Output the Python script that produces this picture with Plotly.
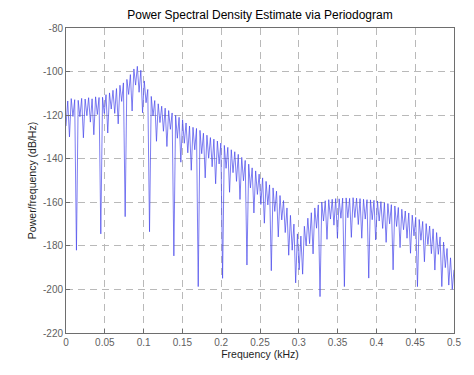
import numpy as np
import plotly.graph_objects as go

# Lobe tops (dB/Hz), one per spectral lobe from 0 to 0.5 kHz
peak_db = [
    -113.5, -112.4, -112.9, -113.2, -112.3, -112.6, -112.0, -112.5, -111.6, -111.9,
    -111.8, -110.6, -109.8, -108.6, -107.8, -106.3, -105.2, -103.6, -101.4, -98.8,
    -97.6, -99.4, -104.3, -108.2, -111.4, -113.3, -114.8, -115.9, -116.8, -117.9,
    -119.0, -120.1, -121.0, -122.1, -123.6, -125.0, -125.6, -126.1, -127.0, -128.3,
    -129.2, -130.3, -131.0, -131.9, -132.8, -133.9, -134.8, -135.9, -136.8, -138.0,
    -139.4, -140.8, -142.5, -144.2, -145.6, -147.1, -148.8, -150.4, -152.0, -153.4,
    -154.9, -156.9, -159.2, -162.6, -166.0, -170.0, -174.5, -175.5, -171.0, -167.3,
    -164.8, -162.6, -161.2, -159.9, -159.3, -158.8, -158.6, -158.3, -158.4, -158.1,
    -158.0, -158.2, -157.9, -158.1, -158.3, -158.6, -158.8, -158.9, -159.1, -159.4,
    -159.7, -160.2, -160.6, -161.1, -161.7, -162.4, -163.2, -164.0, -164.9, -165.9,
    -166.9, -167.9, -168.8, -169.8, -170.9, -172.2, -173.9, -175.9, -178.3, -181.2,
    -185.5, -191.0,
]

# Dips between lobes (dB/Hz); the first one is at 0 kHz
dip_db = [
    -125.0, -130.0, -120.6, -182.0, -120.7, -130.4, -120.3, -123.2, -129.0, -119.7,
    -174.5, -119.2, -128.2, -117.2, -119.2, -124.0, -113.7, -166.6, -110.5, -118.1,
    -106.2, -109.5, -118.9, -114.3, -173.5, -120.4, -132.0, -123.4, -127.4, -134.4,
    -126.5, -184.6, -130.6, -141.6, -132.9, -137.3, -145.3, -135.9, -198.7, -137.7,
    -148.8, -139.8, -143.7, -151.5, -142.4, -194.9, -144.4, -155.4, -146.4, -150.4,
    -158.7, -150.1, -188.8, -153.4, -164.9, -156.4, -161.0, -169.6, -161.2, -191.4,
    -164.2, -175.9, -168.1, -173.9, -184.3, -182.0, -197.0, -191.0, -193.0, -180.0,
    -179.0, -183.7, -171.9, -203.3, -168.6, -177.0, -167.7, -170.5, -176.4, -167.3,
    -198.7, -167.1, -176.1, -167.0, -170.2, -176.5, -167.7, -194.8, -168.0, -177.3,
    -168.6, -172.0, -178.4, -169.9, -191.0, -171.1, -180.8, -172.6, -176.5, -183.4,
    -175.4, -198.7, -177.4, -187.3, -179.4, -183.6, -191.1, -183.9, -198.7, -190.0,
    -198.0, -200.0,
]

x_ticks = [0, 0.05, 0.1, 0.15, 0.2, 0.25, 0.3, 0.35, 0.4, 0.45, 0.5]
x_tick_text = ["0", "0.05", "0.1", "0.15", "0.2", "0.25", "0.3", "0.35", "0.4", "0.45", "0.5"]
y_ticks = [-220, -200, -180, -160, -140, -120, -100, -80]
y_tick_text = ["-220", "-200", "-180", "-160", "-140", "-120", "-100", "-80"]

psd_db = []
for d, p in zip(dip_db, peak_db):
    psd_db.append(d)
    psd_db.append(p)
freq_khz = np.linspace(0, 0.5, len(psd_db))

fig = go.Figure()
fig.add_trace(go.Scatter(
    x=freq_khz, y=psd_db, mode="lines",
    line=dict(color="rgb(70,70,235)", width=0.7),
    hoverinfo="skip", showlegend=False,
))

axis_common = dict(
    showline=True, linecolor="rgb(110,110,110)", linewidth=1, mirror=True,
    showgrid=True, gridcolor="rgb(185,185,185)", griddash="7px,5px", gridwidth=1,
    zeroline=False, ticks="inside", ticklen=4, tickcolor="rgb(110,110,110)",
    automargin=False,
    tickfont=dict(family="Liberation Sans, Arial", size=10, color="rgb(95,95,95)"),
)

# The page body adds an 8 px offset, so the figure is 8 px smaller on each axis
fig.update_layout(
    width=466, height=367,
    margin=dict(l=58, r=20, t=20, b=42),
    paper_bgcolor="white", plot_bgcolor="white",
    title=dict(text="Power Spectral Density Estimate via Periodogram",
               x=0.5, xanchor="center", xref="paper",
               yref="container", y=1 - 7 / 367, yanchor="middle",
               font=dict(family="Liberation Sans, Arial", size=12, color="black")),
    xaxis=dict(range=[0, 0.5], tickvals=x_ticks, ticktext=x_tick_text,
               title=dict(text="Frequency (kHz)", standoff=3,
                          font=dict(family="Liberation Sans, Arial", size=10.5, color="rgb(30,30,30)")),
               **axis_common),
    yaxis=dict(range=[-220, -80], tickvals=y_ticks, ticktext=y_tick_text,
               title=dict(text="Power/frequency (dB/Hz)", standoff=4,
                          font=dict(family="Liberation Sans, Arial", size=10.5, color="rgb(30,30,30)")),
               **axis_common),
)

fig.write_html("out.html")
